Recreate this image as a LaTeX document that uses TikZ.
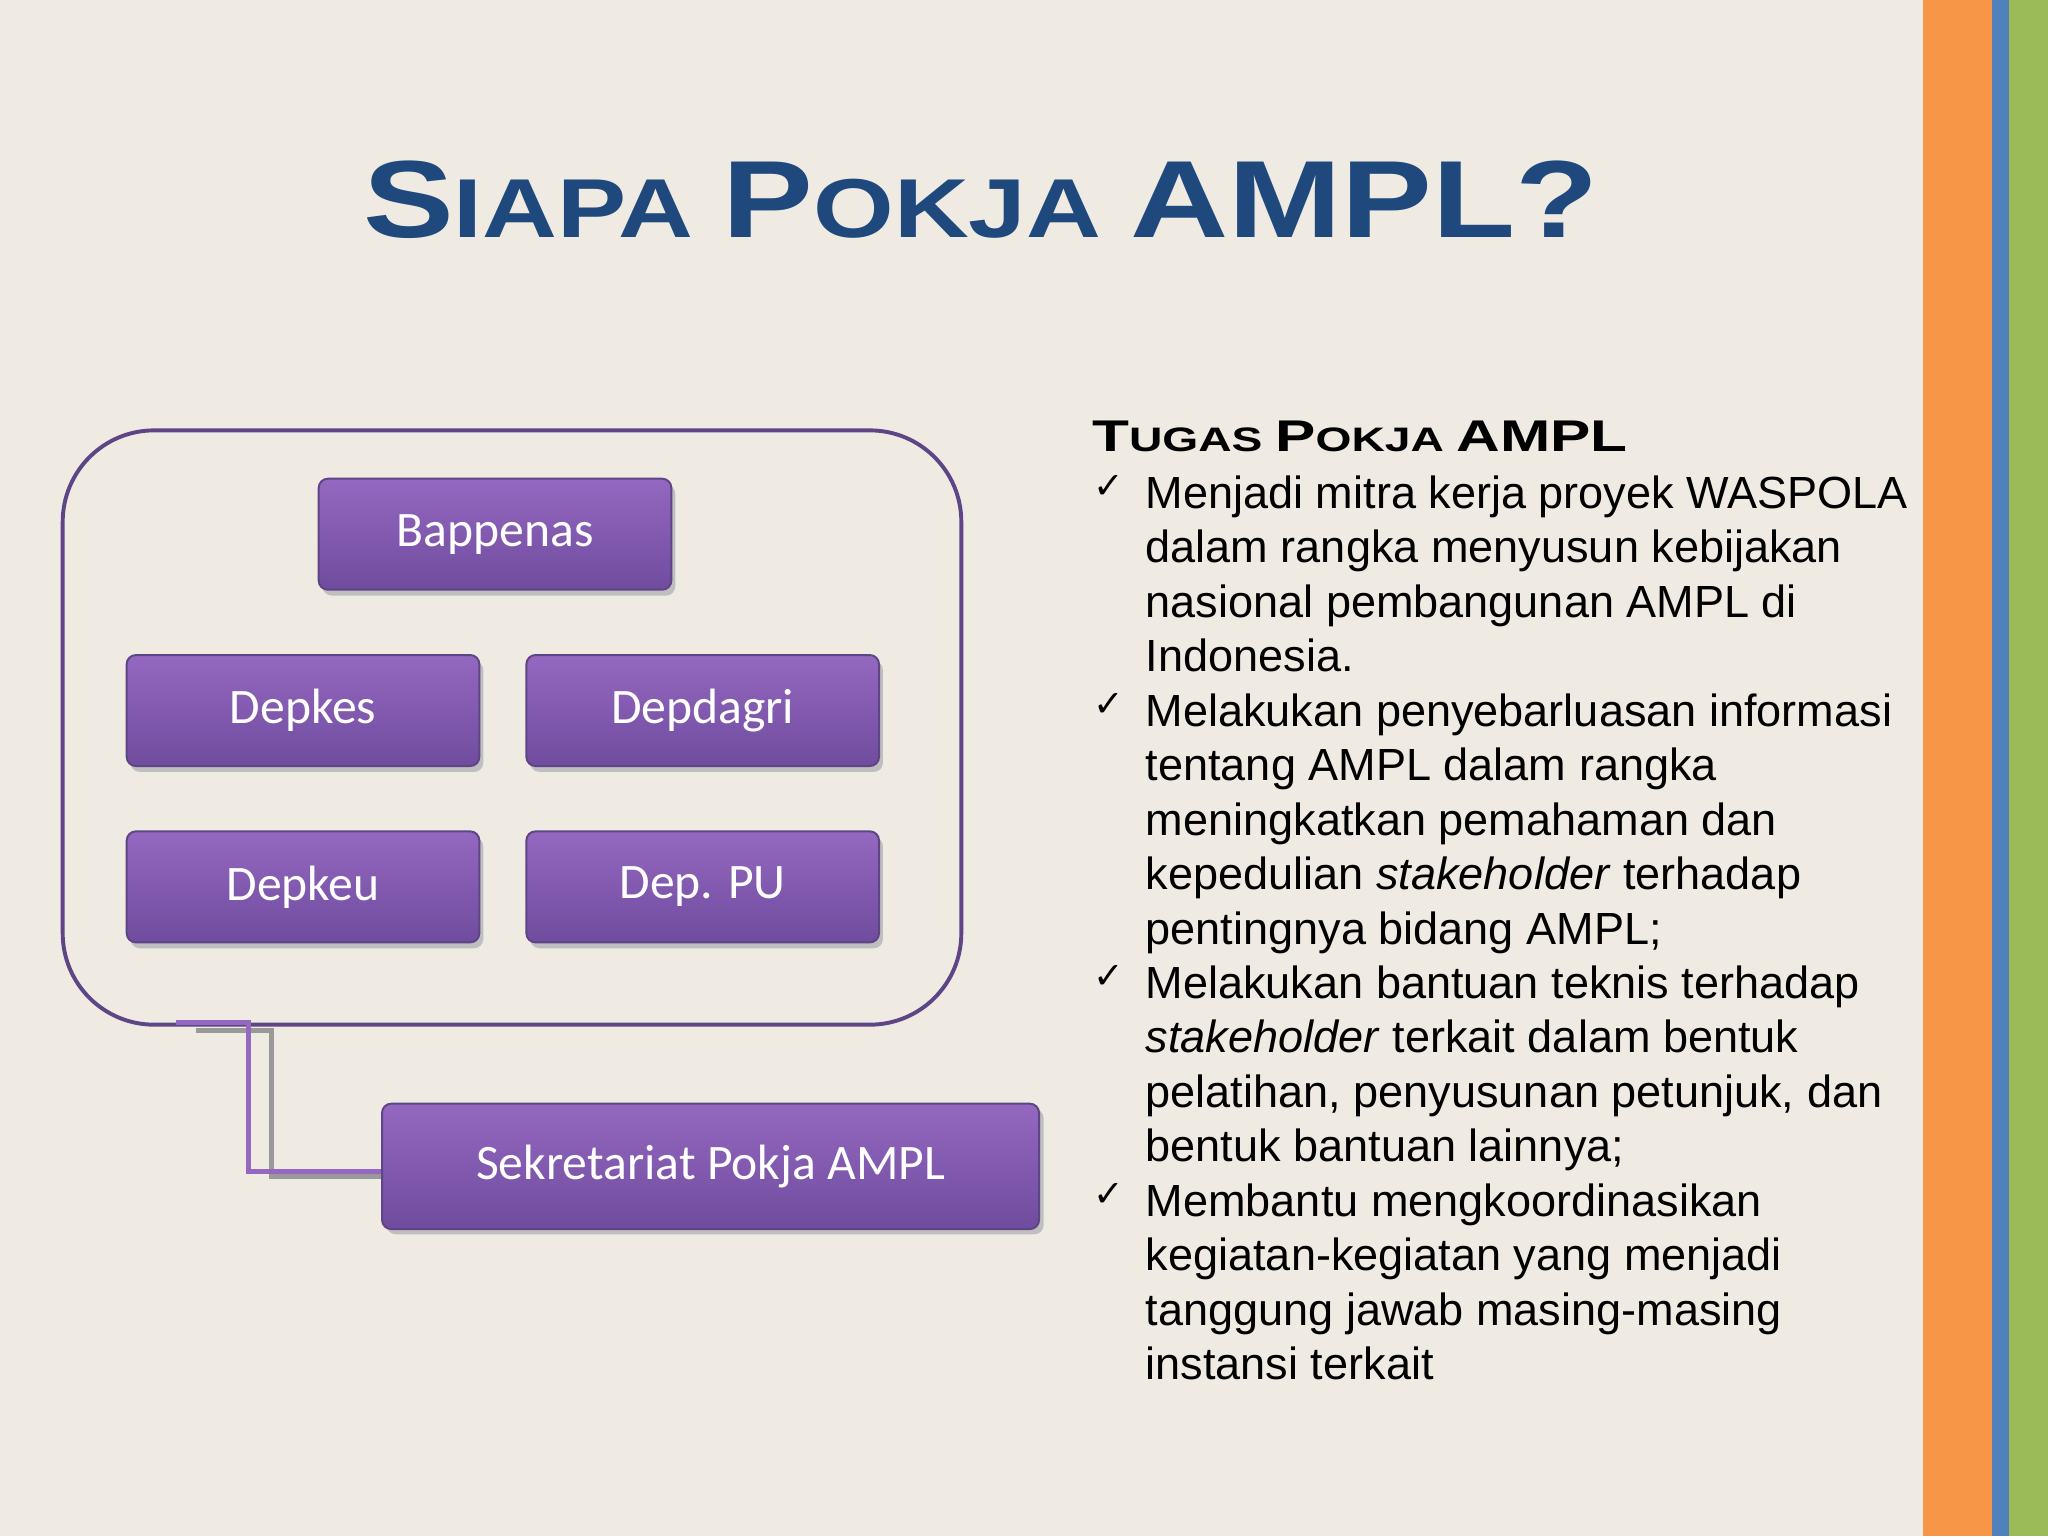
\documentclass[tikz,border=0pt]{standalone}
\usepackage{fontspec}
\setmainfont{Liberation Sans}
\newfontfamily\boxfont{Carlito}
\newfontfamily\symfont{DejaVu Sans}
\newfontfamily\titlefont[FakeStretch=1.24]{Liberation Sans}
\newfontfamily\headfont[FakeStretch=1.36]{Liberation Sans}
\definecolor{bg}{HTML}{EFEBE3}
\definecolor{orng}{HTML}{F79646}
\definecolor{blu}{HTML}{4F81BD}
\definecolor{grn}{HTML}{9BBB59}
\definecolor{ptop}{HTML}{9468C0}
\definecolor{pbot}{HTML}{6F4C9E}
\definecolor{pedge}{HTML}{5E4585}
\definecolor{ttl}{HTML}{1F497D}
\begin{document}
\begin{tikzpicture}[x=1pt,y=-1pt,
  pbox/.style={draw=pedge, line width=1.5pt, rounded corners=7pt, top color=ptop, bottom color=pbot, minimum height=85pt, text=white, font=\boxfont\fontsize{38}{44}\selectfont},
  shad/.style={fill=black!25, rounded corners=7pt},
  txt/.style={anchor=north west, inner sep=0pt, font=\fontsize{34.5}{41.7}\selectfont, align=left}]
\useasboundingbox (0,0) rectangle (1568,1176);
\fill[bg] (0,0) rectangle (1568,1176);
\fill[orng] (1472,0) rectangle (1525,1176);
\fill[blu] (1525,0) rectangle (1538,1176);
\fill[grn] (1538,0) rectangle (1568,1176);
\node[font=\titlefont\bfseries, text=ttl, inner sep=0pt] (title) at (751,153)
 {\fontsize{84}{90}\selectfont S\fontsize{64}{70}\selectfont IAPA \fontsize{84}{90}\selectfont P\fontsize{64}{70}\selectfont OKJA \fontsize{84}{90}\selectfont AMPL?};
\node[draw=pedge, line width=3pt, rounded corners=70pt, minimum width=688pt, minimum height=455pt] (cont) at (392,557) {};
\fill[shad] (247,371) rectangle (517,456);
\node[pbox, minimum width=270pt] (bap) at (379,409) {Bappenas};
\fill[shad] (100,506) rectangle (370,591);
\node[pbox, minimum width=270pt] (dk) at (232,544) {Depkes};
\fill[shad] (406,506) rectangle (676,591);
\node[pbox, minimum width=270pt] (dd) at (538,544) {Depdagri};
\fill[shad] (100,641) rectangle (370,726);
\node[pbox, minimum width=270pt] (dku) at (232,679) {Depkeu};
\fill[shad] (406,641) rectangle (676,726);
\node[pbox, minimum width=270pt] (dpu) at (538,679) {Dep. PU};
\draw[gray!80, line width=4pt] (150,789) -- (208,789) -- (208,901) -- (300,901);
\fill[shad] (296,849) rectangle (799,945);
\node[pbox, minimum width=503pt, minimum height=96pt] (sek) at (544,893) {Sekretariat Pokja AMPL};
\draw[ptop, line width=4pt] (135,783) -- (190,783) -- (190,897) -- (sek.west |- 0,897);
\node[txt, font=\headfont\bfseries] (h) at (836,322) {\fontsize{34}{40}\selectfont T\fontsize{26}{40}\selectfont UGAS \fontsize{34}{40}\selectfont P\fontsize{26}{40}\selectfont OKJA \fontsize{34}{40}\selectfont AMPL};
\foreach \y/\n in {364/c1,531/c2,739/c3,906/c4}
  \node[txt, font=\symfont\fontsize{28}{40}\selectfont] (\n) at (837,\y) {✓};
\node[txt] (b1) at (877,364) {Menjadi mitra kerja proyek WASPOLA\\dalam rangka menyusun kebijakan\\nasional pembangunan AMPL di\\Indonesia.};
\node[txt] (b2) at (877,531) {Melakukan penyebarluasan informasi\\tentang AMPL dalam rangka\\meningkatkan pemahaman dan\\kepedulian \textit{stakeholder} terhadap\\pentingnya bidang AMPL;};
\node[txt] (b3) at (877,739) {Melakukan bantuan teknis terhadap\\\textit{stakeholder} terkait dalam bentuk\\pelatihan, penyusunan petunjuk, dan\\bentuk bantuan lainnya;};
\node[txt] (b4) at (877,906) {Membantu mengkoordinasikan\\kegiatan-kegiatan yang menjadi\\tanggung jawab masing-masing\\instansi terkait};
\end{tikzpicture}
\end{document}
